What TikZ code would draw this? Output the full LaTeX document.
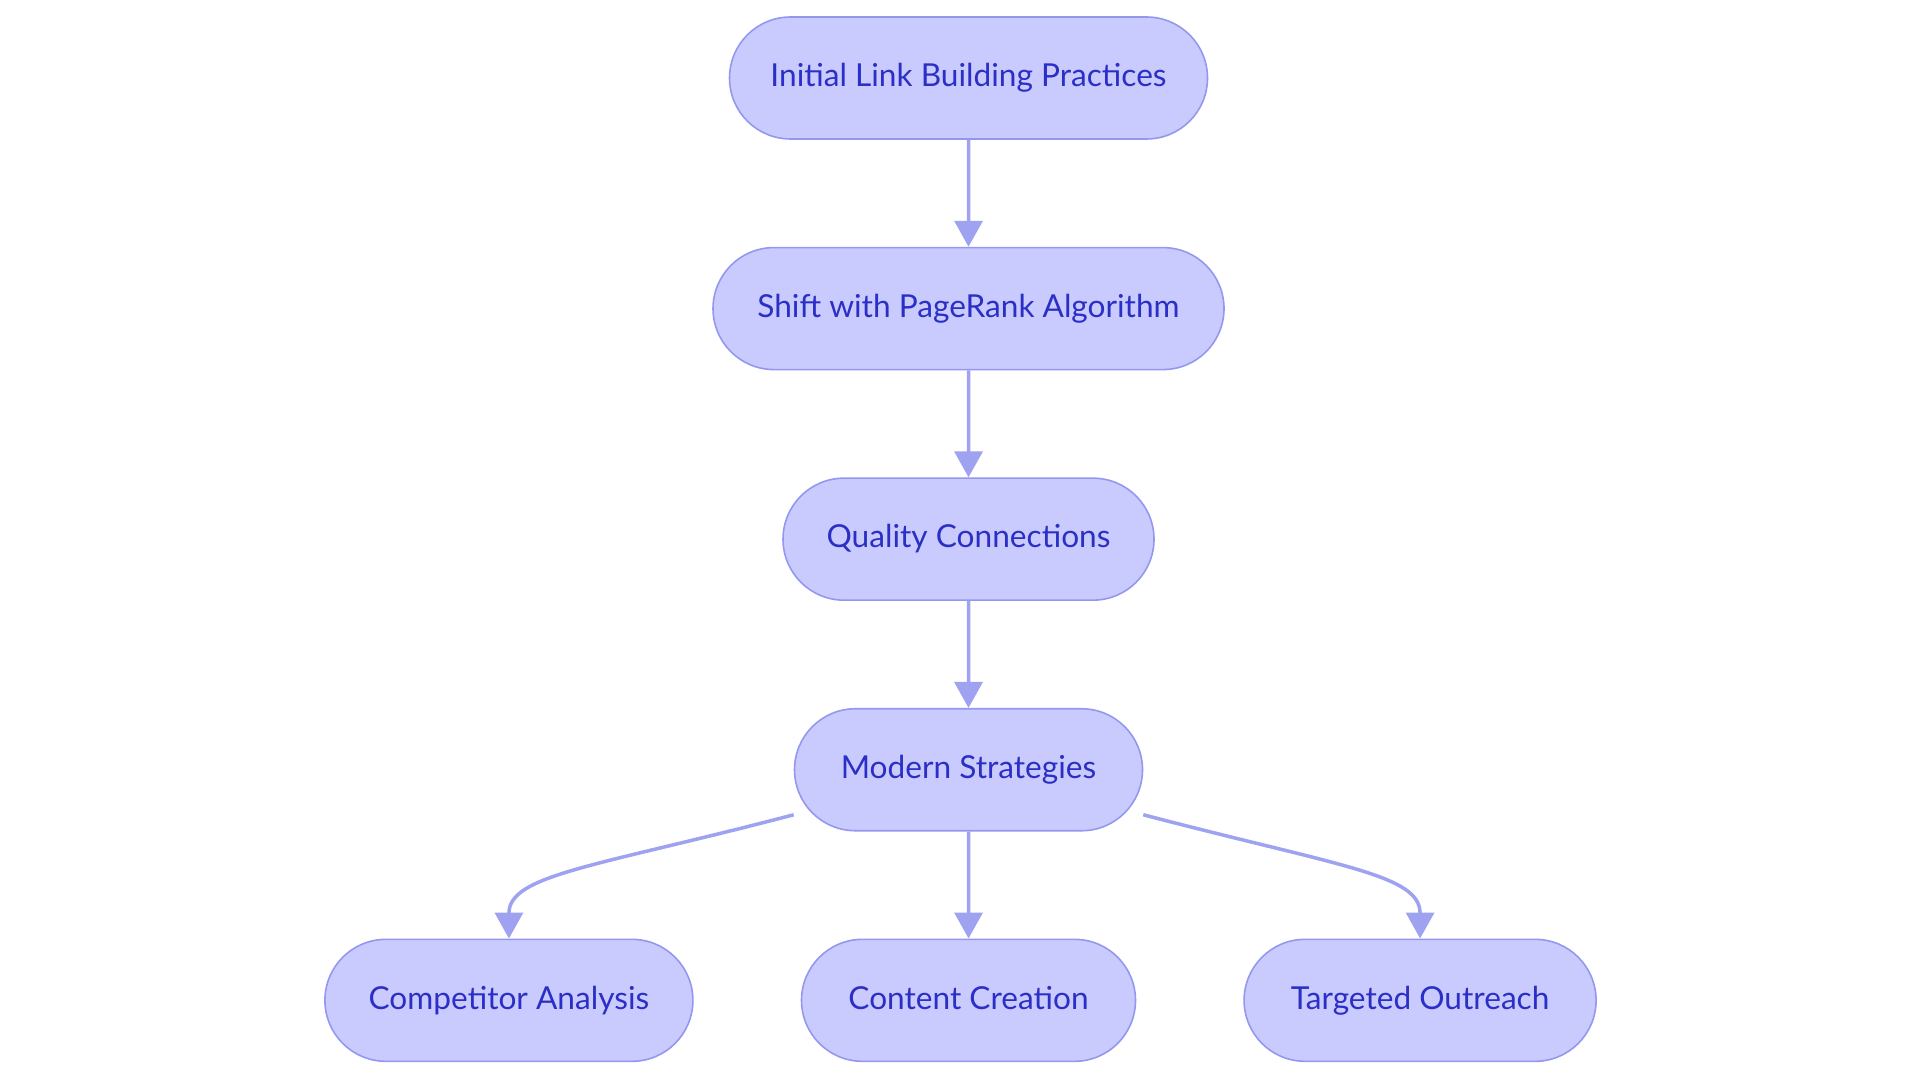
\documentclass[tikz,border=0pt]{standalone}
\usepackage{fontspec}
\setmainfont{Lato}
\usetikzlibrary{positioning, arrows.meta, shapes.misc, calc}
\definecolor{stagefill}{HTML}{C9CBFE}
\definecolor{stageline}{HTML}{9397EE}
\definecolor{stagetext}{HTML}{2B2FC5}
\definecolor{flowline}{HTML}{9EA2F0}

\begin{document}
\begin{tikzpicture}[
		stage/.style={rounded rectangle, draw=stageline, line width=0.9pt, fill=stagefill, text=stagetext, minimum height=2.44cm, inner sep=0pt, text height=13pt, text depth=3pt, font=\fontsize{18}{22}\selectfont},
		flow/.style={-{Triangle[length=0.52cm, width=0.56cm]}, draw=flowline, line width=2pt},
		node distance=2.14cm
	]
		\useasboundingbox (0,0) rectangle (38.4,-21.66);
		% main chain
		\node[stage, minimum width=9.56cm] (initial) at (19.37,-1.56) {Initial Link Building Practices};
		\node[stage, below=of initial, minimum width=10.22cm] (pagerank) {Shift with PageRank Algorithm};
		\node[stage, below=of pagerank, minimum width=7.42cm] (quality) {Quality Connections};
		\node[stage, below=of quality, minimum width=6.96cm] (modern) {Modern Strategies};
		% strategies
		\node[stage, below=of modern, minimum width=6.68cm] (content) {Content Creation};
		\node[stage, left=of content, minimum width=7.36cm] (competitor) {Competitor Analysis};
		\node[stage, right=of content, minimum width=7.04cm] (outreach) {Targeted Outreach};
		% chain arrows
		\draw[flow] (initial) -- (pagerank);
		\draw[flow] (pagerank) -- (quality);
		\draw[flow] (quality) -- (modern);
		% branch arrows
		\draw[flow] ($(modern.west)+(0,-0.9)$) .. controls +(-3.96,-1.04) and +(0,1.28) .. (competitor.north);
		\draw[flow] (modern) -- (content);
		\draw[flow] ($(modern.east)+(0,-0.9)$) .. controls +(3.96,-1.04) and +(0,1.28) .. (outreach.north);
	\end{tikzpicture}
\end{document}
